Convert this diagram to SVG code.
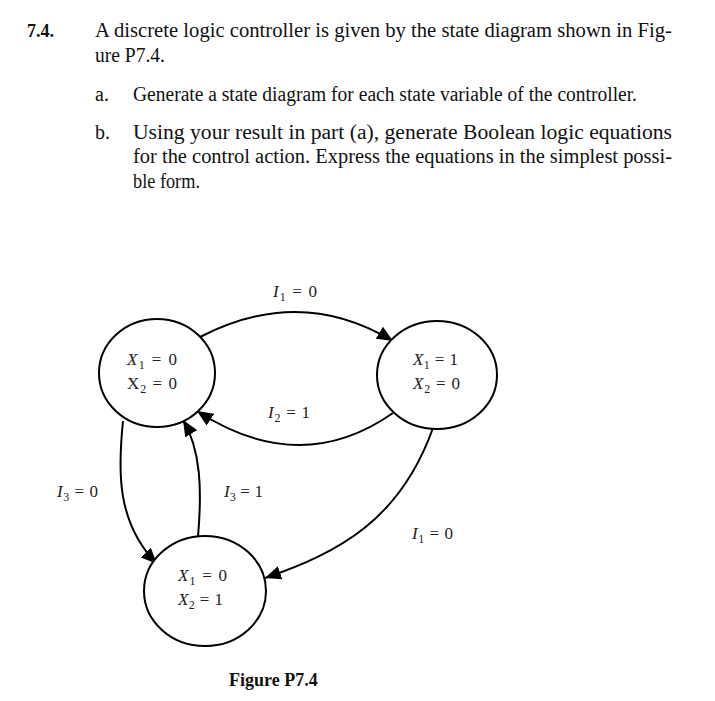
<svg xmlns="http://www.w3.org/2000/svg" width="715" height="701" viewBox="0 0 715 701">
<defs>
<marker id="ah" markerUnits="userSpaceOnUse" markerWidth="18" markerHeight="14" refX="16" refY="7" orient="auto">
<path d="M0,0 L16,7 L0,14 Z" fill="#000"/>
</marker>
<style>
.t{font-family:"Liberation Serif","Times New Roman",serif;font-size:20px;fill:#111}
.b{font-weight:bold}
.l{font-family:"Liberation Serif","Times New Roman",serif;font-size:17px;fill:#222}
.i{font-style:italic}
.s{font-size:12px}
.node{fill:#fff;stroke:#000;stroke-width:2}
.edge{fill:none;stroke:#000;stroke-width:2;marker-end:url(#ah)}
</style>
</defs>
<rect width="715" height="701" fill="#fff"/>
<g id="header">
<text class="t b" x="27" y="37" style="font-size:18px">7.4.</text>
<text class="t" x="95" y="37" textLength="577" lengthAdjust="spacingAndGlyphs">A discrete logic controller is given by the state diagram shown in Fig-</text>
<text class="t" x="95" y="62" textLength="70" lengthAdjust="spacingAndGlyphs">ure P7.4.</text>
<text class="t" x="95" y="101">a.</text>
<text class="t" x="133" y="101" textLength="504" lengthAdjust="spacingAndGlyphs">Generate a state diagram for each state variable of the controller.</text>
<text class="t" x="95" y="139">b.</text>
<text class="t" x="133" y="139" textLength="539" lengthAdjust="spacingAndGlyphs">Using your result in part (a), generate Boolean logic equations</text>
<text class="t" x="133" y="163" textLength="539" lengthAdjust="spacingAndGlyphs">for the control action. Express the equations in the simplest possi-</text>
<text class="t" x="133" y="188" textLength="67" lengthAdjust="spacingAndGlyphs">ble form.</text>
</g>
<g id="connectors">
<path class="edge" d="M200,337 Q300,285 393,341"/>
<path class="edge" d="M393,413 Q300,478 197,411"/>
<path class="edge" d="M123,421 C118,470 116,522 157,564"/>
<path class="edge" d="M198,537 C202,490 201,450 183,420"/>
<path class="edge" d="M433,428 C400,520 340,552 265,578"/>
</g>
<g id="edge-labels" class="l">
<text x="273" y="297" textLength="44"><tspan class="i">I</tspan><tspan class="s" dy="4">1</tspan><tspan dy="-4"> = 0</tspan></text>
<text x="268" y="418" textLength="42"><tspan class="i">I</tspan><tspan class="s" dy="4">2</tspan><tspan dy="-4"> = 1</tspan></text>
<text x="57" y="497" textLength="41"><tspan class="i">I</tspan><tspan class="s" dy="4">3</tspan><tspan dy="-4"> = 0</tspan></text>
<text x="224" y="497" textLength="39"><tspan class="i">I</tspan><tspan class="s" dy="4">3</tspan><tspan dy="-4"> = 1</tspan></text>
<text x="412" y="539" textLength="41"><tspan class="i">I</tspan><tspan class="s" dy="4">1</tspan><tspan dy="-4"> = 0</tspan></text>
</g>
<g id="state-00">
<ellipse class="node" cx="157" cy="373" rx="58" ry="54"/>
<text class="l" x="127" y="365" textLength="50"><tspan class="i">X</tspan><tspan class="s" dy="4">1</tspan><tspan dy="-4"> = 0</tspan></text>
<text class="l" x="127" y="389" textLength="50"><tspan>X</tspan><tspan class="s" dy="4">2</tspan><tspan dy="-4"> = 0</tspan></text>
</g>
<g id="state-10">
<ellipse class="node" cx="437" cy="375" rx="60" ry="54"/>
<text class="l" x="413" y="365" textLength="45"><tspan class="i">X</tspan><tspan class="s" dy="4">1</tspan><tspan dy="-4"> = 1</tspan></text>
<text class="l" x="413" y="389" textLength="47"><tspan class="i">X</tspan><tspan class="s" dy="4">2</tspan><tspan dy="-4"> = 0</tspan></text>
</g>
<g id="state-01">
<ellipse class="node" cx="205" cy="591" rx="61" ry="55"/>
<text class="l" x="178" y="581" textLength="49"><tspan class="i">X</tspan><tspan class="s" dy="4">1</tspan><tspan dy="-4"> = 0</tspan></text>
<text class="l" x="178" y="605" textLength="45"><tspan class="i">X</tspan><tspan class="s" dy="4">2</tspan><tspan dy="-4"> = 1</tspan></text>
</g>
<text class="t b" x="229" y="686" style="font-size:18px">Figure P7.4</text>
</svg>
